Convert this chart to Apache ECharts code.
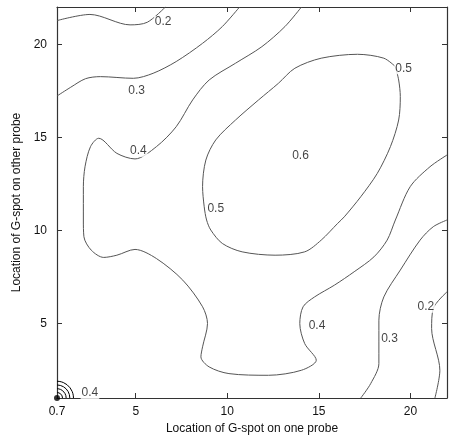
<!DOCTYPE html>
<html><head><meta charset="utf-8">
<script src="https://cdn.jsdelivr.net/npm/echarts@6/dist/echarts.min.js"></script>
<style>html,body{margin:0;padding:0;background:#fff}#c{width:474px;height:442px}</style>
</head><body><div id="c"></div>
<script>
const xTicks = [0.7, 5, 10, 15, 20];
const yTicks = [5, 10, 15, 20];
const c02a = [[0.7,21.27],[2.5,21.6],[4.69,21.04],[5.63,21.18],[6.62,22]];
const c03a = [[0.7,17.22],[1.45,17.69],[2.26,18.15],[3.07,18.26],[4.87,18.17],[5.95,18.44],[7.21,19.07],[8.65,20.05],[9.73,20.95],[10.67,22]];
const c04 = [[14.05,22],[13.15,20.95],[11.89,19.87],[10.45,18.98],[9.01,18.08],[8.11,17.01],[7.21,15.57],[6.13,14.5],[4.96,13.84],[3.97,14.14],[2.98,14.95],[2.53,14.5],[2.23,13.42],[2.14,12.35],[2.14,10.56],[2.17,9.66],[2.57,8.94],[3.25,8.55],[3.97,8.67],[4.96,8.98],[6.13,8.49],[7.57,7.33],[8.65,5.9],[8.92,5.0],[8.65,3.75],[8.56,3.21],[9.01,2.67],[10.09,2.31],[12.25,2.22],[14.05,2.49],[14.86,3.03],[14.23,3.92],[13.96,5.0],[14.14,5.9],[14.77,6.43],[15.85,7.06],[16.93,7.78],[18.01,8.58],[18.73,9.48],[19.18,10.56],[19.99,12.35],[21.07,13.42],[22,14.05]];
const c05 = [[19.18,18.8],[18.55,19.25],[17.11,19.46],[15.13,19.25],[13.69,18.71],[12.79,17.9],[11.71,17.01],[10.45,15.93],[9.37,14.86],[8.83,13.78],[8.65,12.35],[8.74,11.27],[8.87,10.56],[9.1,10.02],[9.73,9.3],[10.81,8.85],[12.61,8.67],[14.23,8.85],[15.13,9.48],[16.03,10.38],[16.39,10.73],[17.29,11.81],[18.19,13.06],[18.91,14.5],[19.36,15.93],[19.45,17.19],[19.36,18.08],[19.18,18.8]];
const c03b = [[17.29,1],[17.83,1.77],[18.28,2.85],[18.28,5.18],[18.55,6.43],[19.45,7.87],[20.53,9.48],[21.25,10.2],[22,10.56]];
const c02b = [[21.34,1],[21.61,2.49],[21.16,4.73],[21.25,5.81],[22,6.7]];
const cornerRadii = [0.3, 0.5, 0.7, 0.9];
const labels = [[6.5,21.2,'0.2'],[5.05,17.5,'0.3'],[5.14,14.27,'0.4'],[14.0,14.0,'0.6'],[19.63,18.71,'0.5'],[9.37,11.18,'0.5'],[14.9,4.9,'0.4'],[18.86,4.16,'0.3'],[20.85,5.9,'0.2'],[2.5,1.27,'0.4']];

const font = 'Liberation Sans';
function arc(r){const p=[];for(let i=0;i<=12;i++){const a=i/12*Math.PI/2;p.push([0.7+r*Math.cos(a),1+r*Math.sin(a)]);}return p;}
const lineS = d => ({type:'line',data:d,showSymbol:false,symbol:'none',silent:true,smooth:0.3,lineStyle:{color:'#555',width:1},clip:true,z:2,animation:false});
const series = [c02a,c03a,c04,c05,c03b,c02b].map(lineS);
cornerRadii.forEach(r=>{const s=lineS(arc(r));s.smooth=false;s.lineStyle={color:'#000',width:1};series.push(s);});
series.push({type:'scatter',data:[[0.7,1]],symbolSize:6,itemStyle:{color:'#000'},clip:true,silent:true,animation:false,z:3});
series.push({type:'scatter',data:labels,symbolSize:0,silent:true,animation:false,z:5,
  label:{show:true,position:'inside',formatter:p=>p.data[2],color:'#111',fontFamily:font,fontSize:12,backgroundColor:'#fff',padding:[0,1]}});

const axCommon = {type:'value',axisLine:{lineStyle:{color:'#333',width:1.2}},splitLine:{show:false},axisTick:{inside:true,length:5,lineStyle:{color:'#333'}},
  axisLabel:{color:'#111',fontFamily:font,fontSize:12}};
const chart = echarts.init(document.getElementById('c'));
chart.setOption({
  animation:false,
  grid:{left:57,right:27,top:7,bottom:44},
  xAxis:[
    Object.assign({},axCommon,{min:0.7,max:22,position:'bottom',name:'Location of G-spot on one probe',nameLocation:'middle',nameGap:23,nameTextStyle:{fontFamily:font,fontSize:12,color:'#111'},
      axisTick:Object.assign({},axCommon.axisTick,{customValues:xTicks}),axisLabel:Object.assign({},axCommon.axisLabel,{customValues:xTicks,margin:8,formatter:v=>String(v)})}),
    Object.assign({},axCommon,{min:0.7,max:22,position:'top',axisTick:Object.assign({},axCommon.axisTick,{customValues:xTicks}),axisLabel:{show:false}})
  ],
  yAxis:[
    Object.assign({},axCommon,{min:1,max:22,position:'left',name:'Location of G-spot on other probe',nameLocation:'middle',nameGap:33,nameTextStyle:{fontFamily:font,fontSize:12,color:'#111'},
      axisTick:Object.assign({},axCommon.axisTick,{customValues:yTicks}),axisLabel:Object.assign({},axCommon.axisLabel,{customValues:yTicks,margin:10})}),
    Object.assign({},axCommon,{min:1,max:22,position:'right',axisTick:Object.assign({},axCommon.axisTick,{customValues:yTicks}),axisLabel:{show:false}})
  ],
  series:series
});
</script></body></html>
